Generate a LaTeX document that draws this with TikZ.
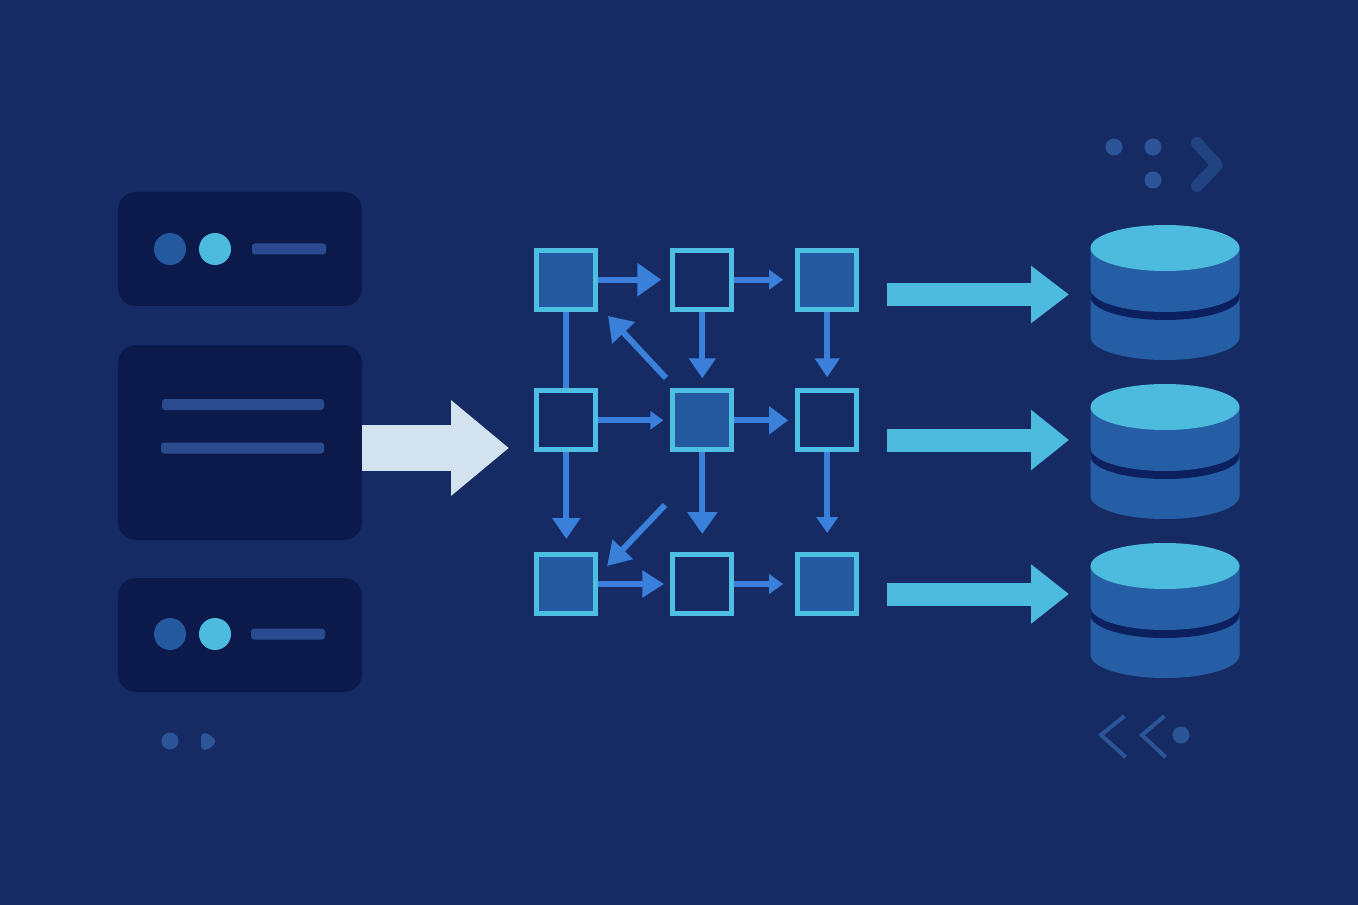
\documentclass[tikz,border=0pt]{standalone}
\usetikzlibrary{arrows.meta}
\definecolor{bgblue}{HTML}{162B63}
\definecolor{panelblue}{HTML}{0B1A4B}
\definecolor{barblue}{HTML}{2C4B8F}
\definecolor{midblue}{HTML}{24599F}
\definecolor{dbblue}{HTML}{255EA4}
\definecolor{skyblue}{HTML}{4DBBDD}
\definecolor{edgeblue}{HTML}{4CBFE3}
\definecolor{flowblue}{HTML}{3A7FD9}
\definecolor{bandblue}{HTML}{0C1F5E}
\definecolor{dotblue}{HTML}{2C5598}
\definecolor{chevblue}{HTML}{21437F}
\definecolor{paleblue}{HTML}{D2E3EF}
\def\px{0.02cm}
\tikzset{
	panelbox/.style={fill=panelblue,rounded corners=18*\px,minimum width=244*\px,inner sep=0pt,outer sep=0pt},
	bar/.style={fill=barblue,rounded corners=3*\px,minimum height=11*\px,inner sep=0pt,outer sep=0pt},
	dot/.style={circle,fill=#1,minimum size=32*\px,inner sep=0pt,outer sep=0pt},
	smalldot/.style={circle,fill=dotblue,minimum size=17*\px,inner sep=0pt,outer sep=0pt},
	openbox/.style={draw=edgeblue,line width=5*\px,minimum size=59*\px,inner sep=0pt},
	fullbox/.style={openbox,fill=midblue},
	flow/.style n args={3}{draw=flowblue,line width=6*\px,shorten >=#3*\px,-{Triangle[length=#1*\px,width=#2*\px]}}
}
\begin{document}
\begin{tikzpicture}[x=\px,y=-\px]
	% 设置背景
	\fill[bgblue] (0,0) rectangle (1358,905);
	\useasboundingbox (0,0) rectangle (1358,905);
	
	% 绘制左侧面板
	\node[panelbox,minimum height=114*\px] (panelTop) at (240,249) {};
	\node[panelbox,minimum height=195*\px] (panelMid) at (240,442.5) {};
	\node[panelbox,minimum height=114*\px] (panelBot) at (240,635) {};
	\node[dot=midblue] (dotTopA) at (170,249) {};
	\node[dot=skyblue] (dotTopB) at (215,249) {};
	\node[bar,minimum width=74*\px] (barTop) at (289,249) {};
	\node[bar,minimum width=162*\px] (barMidA) at (243,404.5) {};
	\node[bar,minimum width=163*\px] (barMidB) at (242.5,448) {};
	\node[dot=midblue] (dotBotA) at (170,634) {};
	\node[dot=skyblue] (dotBotB) at (215,634) {};
	\node[bar,minimum width=74*\px] (barBot) at (288,634) {};
	
	% 绘制左下角的小图形
	\node[smalldot] (cornerDot) at (170,741) {};
	\fill[dotblue,rounded corners=4*\px] (201,733) -- (208,733) -- (217,741.5) -- (208,750) -- (201,750) -- cycle;
	
	% 绘制白色大箭头
	\coordinate (gridIn) at (509,448);
	\draw[paleblue,line width=46*\px,-{Triangle[length=58*\px,width=92*\px]}] (panelMid.east |- gridIn) -- (gridIn);
	
	% 绘制方格
	\foreach \boxName/\boxX/\boxY/\boxKind in {
		boxAA/566.3/279.7/fullbox,boxAB/702.3/279.7/openbox,boxAC/827.2/279.7/fullbox,
		boxBA/566.3/420.3/openbox,boxBB/702.3/420.3/fullbox,boxBC/827.2/420.3/openbox,
		boxCA/566.3/584/fullbox,boxCB/702.3/584/openbox,boxCC/827.2/584/fullbox}
		\node[\boxKind] (\boxName) at (\boxX,\boxY) {};
	
	% 绘制横向箭头
	\draw[flow={24}{32}{9}] (boxAA) -- (boxAB);
	\draw[flow={14}{19}{12}] (boxAB) -- (boxAC);
	\draw[flow={13}{18}{7}] (boxBA) -- (boxBB);
	\draw[flow={19}{27}{7}] (boxBB) -- (boxBC);
	\draw[flow={22}{26}{6}] (boxCA) -- (boxCB);
	\draw[flow={14}{19}{12}] (boxCB) -- (boxCC);
	
	% 绘制纵向箭头
	\draw[draw=flowblue,line width=6*\px] (boxAA) -- (boxBA);
	\draw[flow={20}{26}{10}] (boxAB) -- (boxBB);
	\draw[flow={19}{24}{11}] (boxAC) -- (boxBC);
	\draw[flow={21}{27}{13}] (boxBA) -- (boxCA);
	\draw[flow={22}{29}{18}] (boxBB) -- (boxCB);
	\draw[flow={16}{21}{19}] (boxBC) -- (boxCC);
	
	% 绘制斜向箭头
	\coordinate (slantUpA) at (666,378);
	\coordinate (slantUpB) at (608,316);
	\coordinate (slantDownA) at (665,505);
	\coordinate (slantDownB) at (607,566);
	\draw[flow={23}{30}{0}] (slantUpA) -- (slantUpB);
	\draw[flow={23}{27}{0}] (slantDownA) -- (slantDownB);
	
	% 绘制数据库
	\foreach \dbName/\dbY in {dbOne/248,dbTwo/407,dbThree/566}{
		\begin{scope}[shift={(1165,\dbY)}]
			\coordinate (\dbName) at (0,0);
			\fill[dbblue] (-74.5,45) -- ++(0,44) arc[start angle=180,end angle=360,x radius=74.5*\px,y radius=23*\px] -- ++(0,-44) -- cycle;
			\fill[bandblue] (-74.5,41) -- ++(0,8) arc[start angle=180,end angle=360,x radius=74.5*\px,y radius=23*\px] -- ++(0,-8) -- cycle;
			\fill[dbblue] (-74.5,0) -- ++(0,41) arc[start angle=180,end angle=360,x radius=74.5*\px,y radius=23*\px] -- ++(0,-41) -- cycle;
			\fill[skyblue] (0,0) ellipse[x radius=74.5*\px,y radius=23*\px];
		\end{scope}
	}
	
	% 绘制青色箭头
	\foreach \flowName/\flowY/\flowHead in {flowOne/294.5/55,flowTwo/440/58,flowThree/594/57}{
		\coordinate (\flowName A) at (887,\flowY);
		\coordinate (\flowName B) at (1069,\flowY);
		\draw[skyblue,line width=23*\px,-{Triangle[length=38*\px,width=\flowHead*\px]}] (\flowName A) -- (\flowName B);
	}
	
	% 绘制右上角的小图形
	\node[smalldot] (topDotA) at (1114,147) {};
	\node[smalldot] (topDotB) at (1153,147) {};
	\node[smalldot] (topDotC) at (1153,180) {};
	\draw[chevblue,line width=12*\px,line cap=round,line join=round] (1197,143) -- (1217,165) -- (1197,186);
	
	% 绘制右下角的小图形
	\draw[dotblue,line width=4*\px] (1124.5,716) -- (1101,735) -- (1125.5,757);
	\draw[dotblue,line width=4*\px] (1164.5,716) -- (1142,735) -- (1165.5,757);
	\node[smalldot] (bottomDot) at (1181,735) {};
\end{tikzpicture}
\end{document}
